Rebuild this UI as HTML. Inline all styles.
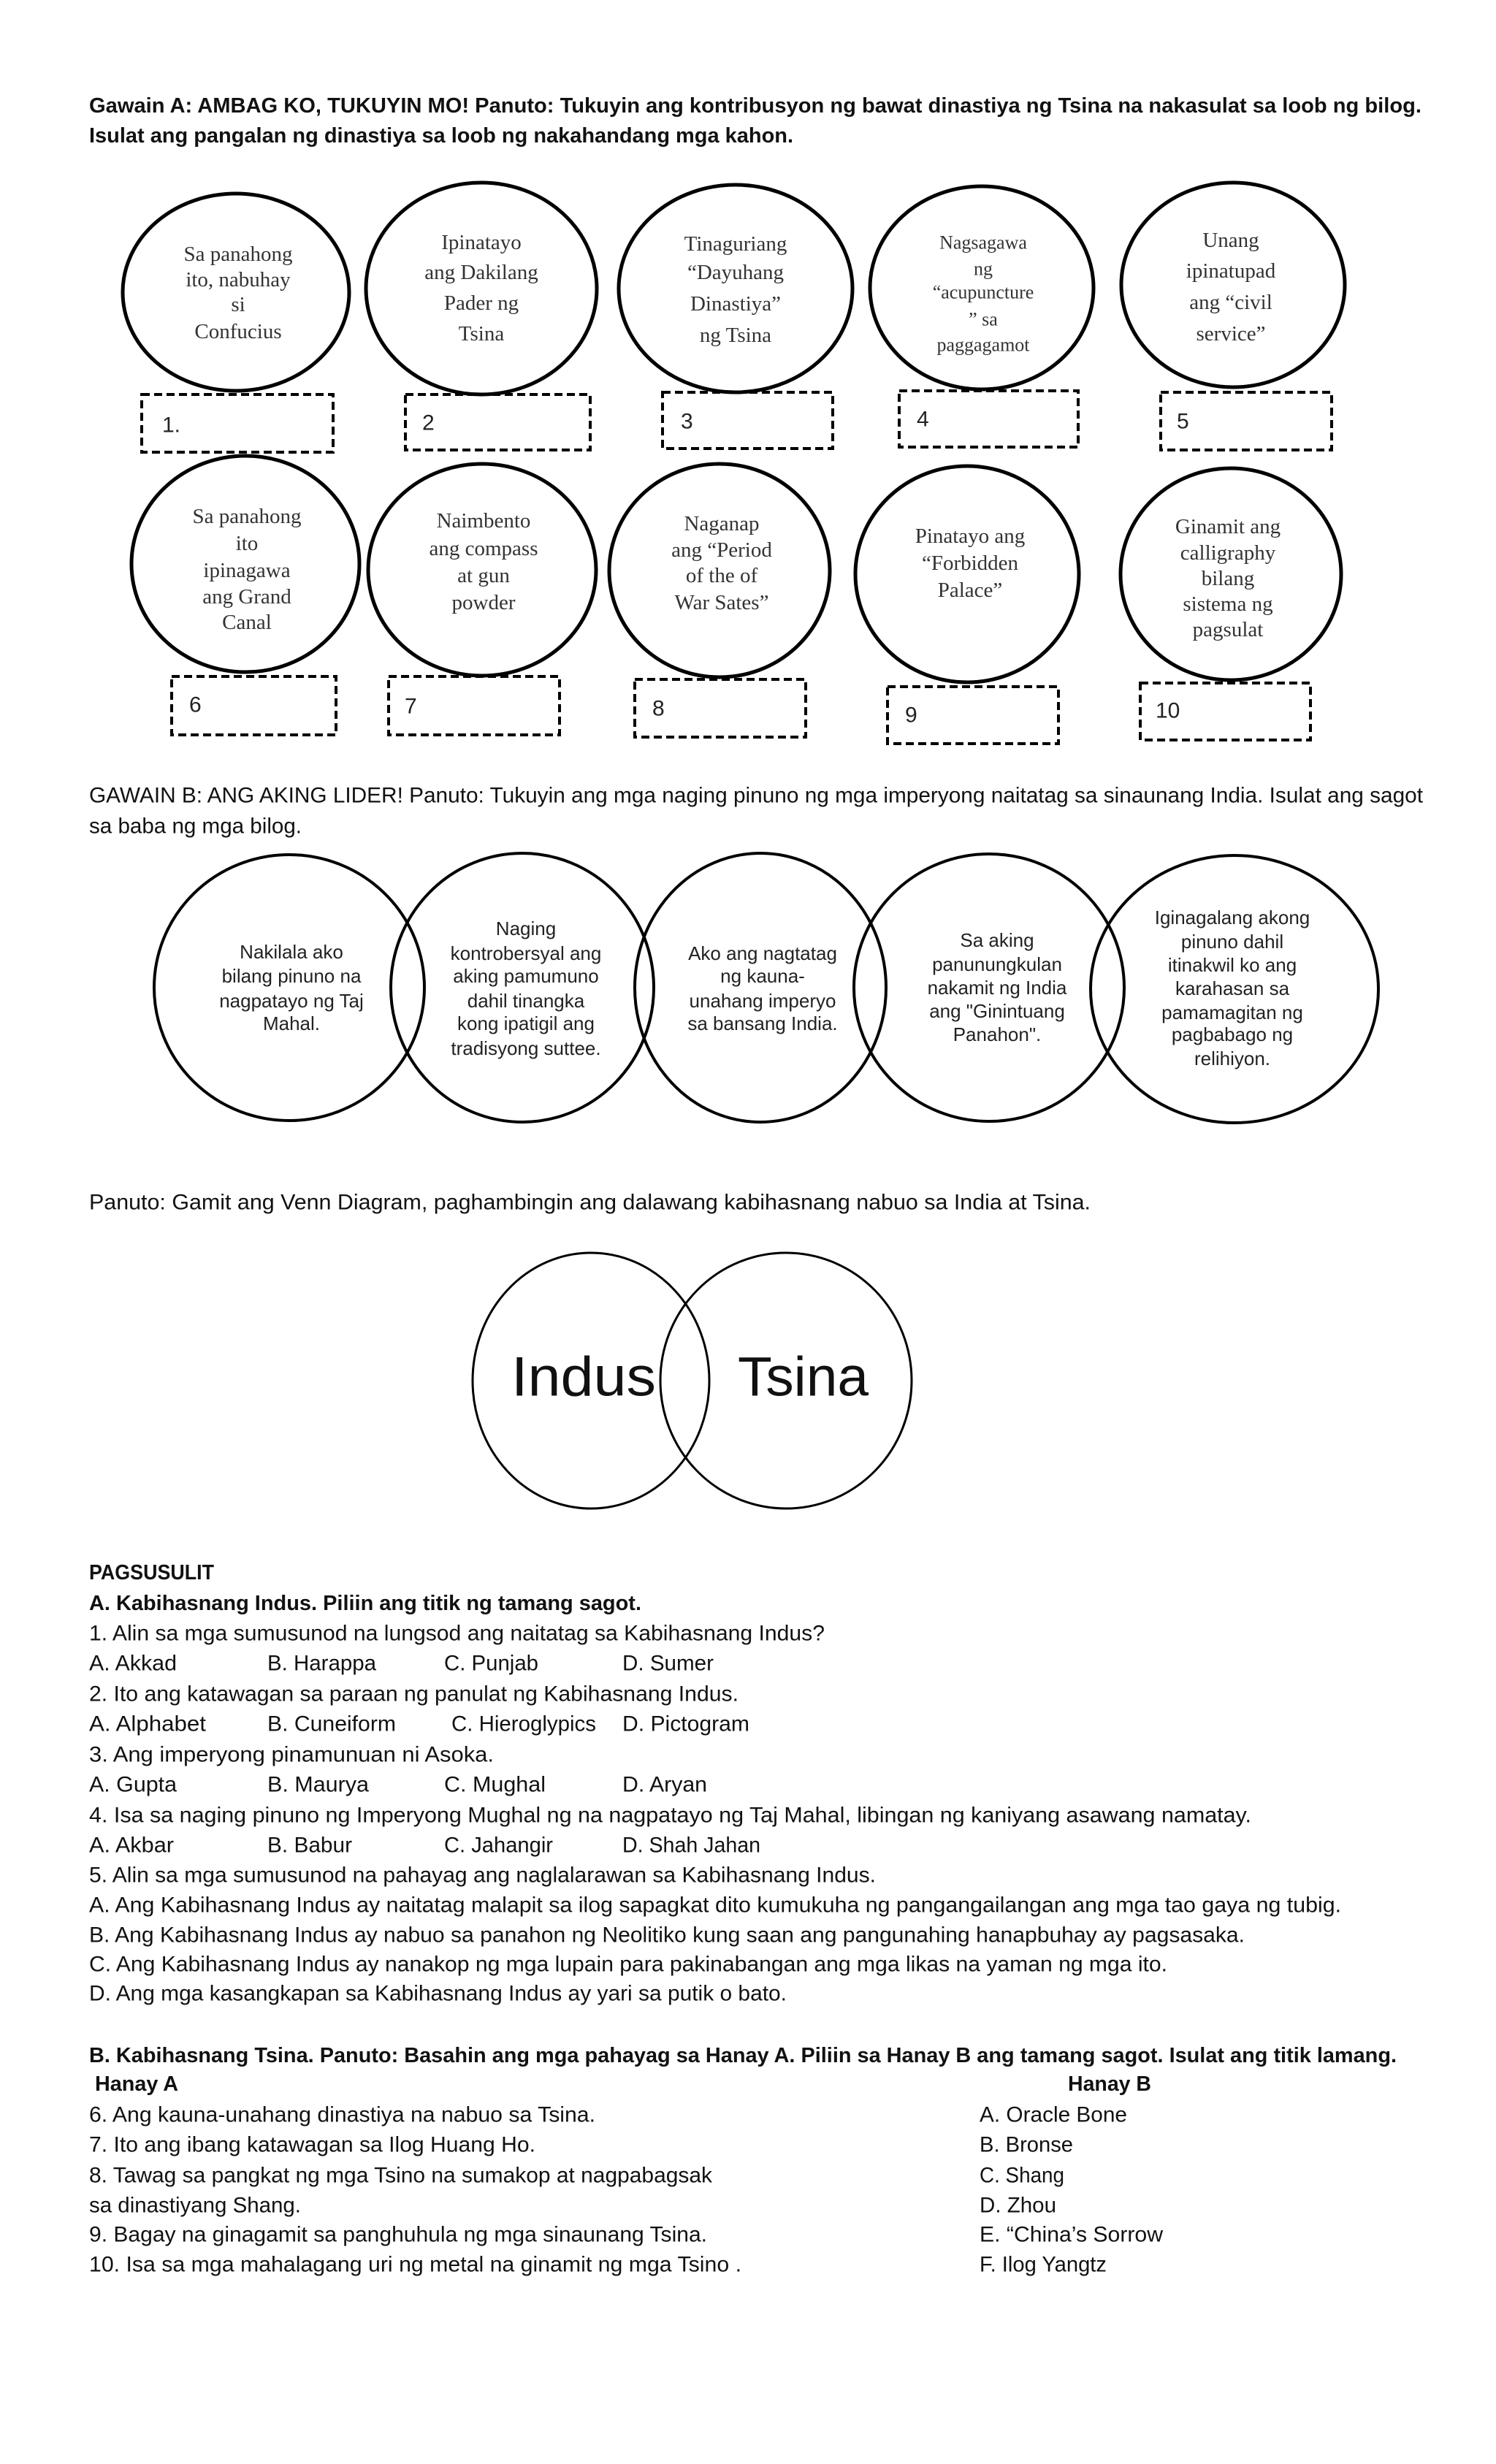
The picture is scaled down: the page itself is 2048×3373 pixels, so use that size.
<!DOCTYPE html>
<html><head><meta charset="utf-8"><style>
html,body{margin:0;padding:0;background:#fff}
svg{display:block}
text{font-family:"Liberation Sans",sans-serif;fill:#111;dominant-baseline:central}
.s{font-family:"Liberation Serif",serif;fill:#333;font-size:29px;text-anchor:middle}
.b{font-size:26px;text-anchor:middle;fill:#222}
.t{font-size:30px}
.bo{font-weight:bold;font-size:29px}
.n{font-size:30px;fill:#222}
</style></head><body>
<svg width="2048" height="3373" viewBox="0 0 2048 3373" xmlns="http://www.w3.org/2000/svg">
<rect width="2048" height="3373" fill="#fff"/>
<text class="bo" x="122" y="145" textLength="1824" lengthAdjust="spacingAndGlyphs">Gawain A: AMBAG KO, TUKUYIN MO! Panuto: Tukuyin ang kontribusyon ng bawat dinastiya ng Tsina na nakasulat sa loob ng bilog.</text>
<text class="bo" x="122" y="186" textLength="964" lengthAdjust="spacingAndGlyphs">Isulat ang pangalan ng dinastiya sa loob ng nakahandang mga kahon.</text>

<g fill="none" stroke="#000" stroke-width="5">
<ellipse cx="323" cy="400" rx="155" ry="135"/>
<ellipse cx="659" cy="395" rx="158" ry="145"/>
<ellipse cx="1007" cy="395" rx="160" ry="142"/>
<ellipse cx="1344" cy="394" rx="153" ry="139"/>
<ellipse cx="1688" cy="390" rx="153" ry="140"/>
<ellipse cx="336" cy="772" rx="156" ry="148"/>
<ellipse cx="660" cy="780" rx="156" ry="145"/>
<ellipse cx="985" cy="781" rx="151" ry="146"/>
<ellipse cx="1324" cy="786" rx="153" ry="148"/>
<ellipse cx="1685" cy="786" rx="151" ry="145"/>
</g>
<g fill="none" stroke="#000" stroke-width="4" stroke-dasharray="11,6">
<rect x="194" y="540" width="262" height="79"/>
<rect x="555" y="540" width="253" height="76"/>
<rect x="907" y="537" width="233" height="77"/>
<rect x="1231" y="535" width="245" height="77"/>
<rect x="1589" y="537" width="234" height="79"/>
<rect x="235" y="926" width="225" height="80"/>
<rect x="532" y="926" width="234" height="80"/>
<rect x="869" y="930" width="234" height="79"/>
<rect x="1215" y="940" width="234" height="78"/>
<rect x="1561" y="935" width="233" height="78"/>
</g>
<text class="n" x="222" y="582">1.</text>
<text class="n" x="578" y="579">2</text>
<text class="n" x="932" y="577">3</text>
<text class="n" x="1255" y="574">4</text>
<text class="n" x="1611" y="577">5</text>
<text class="n" x="259" y="965">6</text>
<text class="n" x="554" y="967">7</text>
<text class="n" x="893" y="970">8</text>
<text class="n" x="1239" y="979">9</text>
<text class="n" x="1582" y="973">10</text>

<text class="s" x="326" y="348">Sa panahong</text>
<text class="s" x="326" y="383">ito, nabuhay</text>
<text class="s" x="326" y="417">si</text>
<text class="s" x="326" y="454">Confucius</text>
<text class="s" x="659" y="332">Ipinatayo</text>
<text class="s" x="659" y="373">ang Dakilang</text>
<text class="s" x="659" y="415">Pader ng</text>
<text class="s" x="659" y="457">Tsina</text>
<text class="s" x="1007" y="334">Tinaguriang</text>
<text class="s" x="1007" y="373">“Dayuhang</text>
<text class="s" x="1007" y="416">Dinastiya”</text>
<text class="s" x="1007" y="459">ng Tsina</text>
<text class="s" x="1346" y="332" style="font-size:26px">Nagsagawa</text>
<text class="s" x="1346" y="368" style="font-size:26px">ng</text>
<text class="s" x="1346" y="400" style="font-size:26px">“acupuncture</text>
<text class="s" x="1346" y="437" style="font-size:26px">” sa</text>
<text class="s" x="1346" y="472" style="font-size:26px">paggagamot</text>
<text class="s" x="1685" y="329">Unang</text>
<text class="s" x="1685" y="371">ipinatupad</text>
<text class="s" x="1685" y="414">ang “civil</text>
<text class="s" x="1685" y="457">service”</text>

<text class="s" x="338" y="707">Sa panahong</text>
<text class="s" x="338" y="744">ito</text>
<text class="s" x="338" y="781">ipinagawa</text>
<text class="s" x="338" y="817">ang Grand</text>
<text class="s" x="338" y="852">Canal</text>
<text class="s" x="662" y="713">Naimbento</text>
<text class="s" x="662" y="751">ang compass</text>
<text class="s" x="662" y="788">at gun</text>
<text class="s" x="662" y="825">powder</text>
<text class="s" x="988" y="717">Naganap</text>
<text class="s" x="988" y="753">ang “Period</text>
<text class="s" x="988" y="788">of the of</text>
<text class="s" x="988" y="825">War Sates”</text>
<text class="s" x="1328" y="734">Pinatayo ang</text>
<text class="s" x="1328" y="771">“Forbidden</text>
<text class="s" x="1328" y="808">Palace”</text>
<text class="s" x="1681" y="721">Ginamit ang</text>
<text class="s" x="1681" y="757">calligraphy</text>
<text class="s" x="1681" y="792">bilang</text>
<text class="s" x="1681" y="827">sistema ng</text>
<text class="s" x="1681" y="862">pagsulat</text>

<text class="t" x="122" y="1089" textLength="1826" lengthAdjust="spacingAndGlyphs">GAWAIN B: ANG AKING LIDER! Panuto: Tukuyin ang mga naging pinuno ng mga imperyong naitatag sa sinaunang India. Isulat ang sagot</text>
<text class="t" x="122" y="1131" textLength="291" lengthAdjust="spacingAndGlyphs">sa baba ng mga bilog.</text>

<g fill="none" stroke="#000" stroke-width="4">
<ellipse cx="396" cy="1352" rx="185" ry="182"/>
<ellipse cx="715" cy="1352" rx="180" ry="184"/>
<ellipse cx="1041" cy="1352" rx="172" ry="184"/>
<ellipse cx="1354" cy="1352" rx="185" ry="183"/>
<ellipse cx="1690" cy="1354" rx="197" ry="183"/>
</g>
<text class="b" x="399" y="1303">Nakilala ako</text>
<text class="b" x="399" y="1336">bilang pinuno na</text>
<text class="b" x="399" y="1370">nagpatayo ng Taj</text>
<text class="b" x="399" y="1401">Mahal.</text>
<text class="b" x="720" y="1271">Naging</text>
<text class="b" x="720" y="1305">kontrobersyal ang</text>
<text class="b" x="720" y="1336">aking pamumuno</text>
<text class="b" x="720" y="1370">dahil tinangka</text>
<text class="b" x="720" y="1401">kong ipatigil ang</text>
<text class="b" x="720" y="1435">tradisyong suttee.</text>
<text class="b" x="1044" y="1305">Ako ang nagtatag</text>
<text class="b" x="1044" y="1336">ng kauna-</text>
<text class="b" x="1044" y="1370">unahang imperyo</text>
<text class="b" x="1044" y="1401">sa bansang India.</text>
<text class="b" x="1365" y="1287">Sa aking</text>
<text class="b" x="1365" y="1320">panunungkulan</text>
<text class="b" x="1365" y="1352">nakamit ng India</text>
<text class="b" x="1365" y="1384">ang  "Ginintuang</text>
<text class="b" x="1365" y="1416">Panahon".</text>
<text class="b" x="1687" y="1256">Iginagalang akong</text>
<text class="b" x="1687" y="1289">pinuno dahil</text>
<text class="b" x="1687" y="1321">itinakwil ko ang</text>
<text class="b" x="1687" y="1353">karahasan sa</text>
<text class="b" x="1687" y="1386">pamamagitan ng</text>
<text class="b" x="1687" y="1416">pagbabago ng</text>
<text class="b" x="1687" y="1449">relihiyon.</text>

<text class="t" x="122" y="1646" textLength="1371" lengthAdjust="spacingAndGlyphs">Panuto: Gamit ang Venn Diagram, paghambingin ang dalawang kabihasnang nabuo sa India at Tsina.</text>

<g fill="none" stroke="#000" stroke-width="3">
<ellipse cx="809" cy="1890" rx="162" ry="175"/>
<ellipse cx="1076" cy="1890" rx="172" ry="175"/>
</g>
<text x="700" y="1885" style="font-size:76px" textLength="198" lengthAdjust="spacingAndGlyphs">Indus</text>
<text x="1010" y="1885" style="font-size:76px" textLength="179" lengthAdjust="spacingAndGlyphs">Tsina</text>

<text class="bo" x="122" y="2153" textLength="171" lengthAdjust="spacingAndGlyphs">PAGSUSULIT</text>
<text class="bo" x="122" y="2195" textLength="756" lengthAdjust="spacingAndGlyphs">A. Kabihasnang Indus. Piliin ang titik ng tamang sagot.</text>
<text class="t" x="122" y="2236" textLength="1007" lengthAdjust="spacingAndGlyphs">1. Alin sa mga sumusunod na lungsod ang naitatag sa Kabihasnang Indus?</text>
<text class="t" x="122" y="2277" textLength="120" lengthAdjust="spacingAndGlyphs">A. Akkad</text><text class="t" x="366" y="2277" textLength="149" lengthAdjust="spacingAndGlyphs">B. Harappa</text><text class="t" x="608" y="2277" textLength="129" lengthAdjust="spacingAndGlyphs">C. Punjab</text><text class="t" x="852" y="2277" textLength="125" lengthAdjust="spacingAndGlyphs">D. Sumer</text>
<text class="t" x="122" y="2319" textLength="889" lengthAdjust="spacingAndGlyphs">2. Ito ang katawagan sa paraan ng panulat ng Kabihasnang Indus.</text>
<text class="t" x="122" y="2360" textLength="160" lengthAdjust="spacingAndGlyphs">A. Alphabet</text><text class="t" x="366" y="2360" textLength="176" lengthAdjust="spacingAndGlyphs">B. Cuneiform</text><text class="t" x="618" y="2360" textLength="198" lengthAdjust="spacingAndGlyphs">C. Hieroglypics</text><text class="t" x="852" y="2360" textLength="174" lengthAdjust="spacingAndGlyphs">D. Pictogram</text>
<text class="t" x="122" y="2402" textLength="554" lengthAdjust="spacingAndGlyphs">3. Ang imperyong pinamunuan ni Asoka.</text>
<text class="t" x="122" y="2443" textLength="120" lengthAdjust="spacingAndGlyphs">A. Gupta</text><text class="t" x="366" y="2443" textLength="139" lengthAdjust="spacingAndGlyphs">B. Maurya</text><text class="t" x="608" y="2443" textLength="139" lengthAdjust="spacingAndGlyphs">C. Mughal</text><text class="t" x="852" y="2443" textLength="116" lengthAdjust="spacingAndGlyphs">D. Aryan</text>
<text class="t" x="122" y="2485" textLength="1591" lengthAdjust="spacingAndGlyphs">4. Isa sa naging pinuno ng Imperyong Mughal ng na nagpatayo ng Taj Mahal, libingan ng kaniyang asawang namatay.</text>
<text class="t" x="122" y="2526" textLength="116" lengthAdjust="spacingAndGlyphs">A. Akbar</text><text class="t" x="366" y="2526" textLength="116" lengthAdjust="spacingAndGlyphs">B. Babur</text><text class="t" x="608" y="2526" textLength="149" lengthAdjust="spacingAndGlyphs">C. Jahangir</text><text class="t" x="852" y="2526" textLength="189" lengthAdjust="spacingAndGlyphs">D. Shah Jahan</text>
<text class="t" x="122" y="2567" textLength="1077" lengthAdjust="spacingAndGlyphs">5. Alin sa mga sumusunod na pahayag ang naglalarawan sa Kabihasnang Indus.</text>
<text class="t" x="122" y="2608" textLength="1714" lengthAdjust="spacingAndGlyphs">A. Ang Kabihasnang Indus ay naitatag malapit sa ilog sapagkat dito kumukuha ng pangangailangan ang mga tao gaya ng tubig.</text>
<text class="t" x="122" y="2649" textLength="1582" lengthAdjust="spacingAndGlyphs">B. Ang Kabihasnang Indus ay nabuo sa panahon ng Neolitiko kung saan ang pangunahing hanapbuhay ay pagsasaka.</text>
<text class="t" x="122" y="2689" textLength="1476" lengthAdjust="spacingAndGlyphs">C. Ang Kabihasnang Indus ay nanakop ng mga lupain para pakinabangan ang mga likas na yaman ng mga ito.</text>
<text class="t" x="122" y="2729" textLength="955" lengthAdjust="spacingAndGlyphs">D. Ang mga kasangkapan sa Kabihasnang Indus ay yari sa putik o bato.</text>

<text class="bo" x="122" y="2814" textLength="1790" lengthAdjust="spacingAndGlyphs">B. Kabihasnang Tsina. Panuto: Basahin ang mga pahayag sa Hanay A. Piliin sa Hanay B ang tamang sagot. Isulat ang titik lamang.</text>
<text class="bo" x="130" y="2853" textLength="114" lengthAdjust="spacingAndGlyphs">Hanay A</text>
<text class="bo" x="1462" y="2853" textLength="114" lengthAdjust="spacingAndGlyphs">Hanay B</text>
<text class="t" x="122" y="2895" textLength="693" lengthAdjust="spacingAndGlyphs">6. Ang kauna-unahang dinastiya na nabuo sa Tsina.</text>
<text class="t" x="122" y="2936" textLength="611" lengthAdjust="spacingAndGlyphs">7. Ito ang ibang katawagan sa Ilog Huang Ho.</text>
<text class="t" x="122" y="2978" textLength="853" lengthAdjust="spacingAndGlyphs">8. Tawag sa pangkat ng mga Tsino na sumakop at nagpabagsak</text>
<text class="t" x="122" y="3019" textLength="290" lengthAdjust="spacingAndGlyphs">sa dinastiyang Shang.</text>
<text class="t" x="122" y="3059" textLength="846" lengthAdjust="spacingAndGlyphs">9. Bagay na ginagamit sa panghuhula ng mga sinaunang Tsina.</text>
<text class="t" x="122" y="3100" textLength="893" lengthAdjust="spacingAndGlyphs">10. Isa sa mga mahalagang uri ng metal na ginamit ng mga Tsino .</text>
<text class="t" x="1341" y="2895" textLength="202" lengthAdjust="spacingAndGlyphs">A. Oracle Bone</text>
<text class="t" x="1341" y="2936" textLength="128" lengthAdjust="spacingAndGlyphs">B. Bronse</text>
<text class="t" x="1341" y="2978" textLength="116" lengthAdjust="spacingAndGlyphs">C. Shang</text>
<text class="t" x="1341" y="3019" textLength="105" lengthAdjust="spacingAndGlyphs">D. Zhou</text>
<text class="t" x="1341" y="3059" textLength="251" lengthAdjust="spacingAndGlyphs">E. “China’s Sorrow</text>
<text class="t" x="1341" y="3100" textLength="174" lengthAdjust="spacingAndGlyphs">F. Ilog Yangtz</text>
</svg>
</body></html>
